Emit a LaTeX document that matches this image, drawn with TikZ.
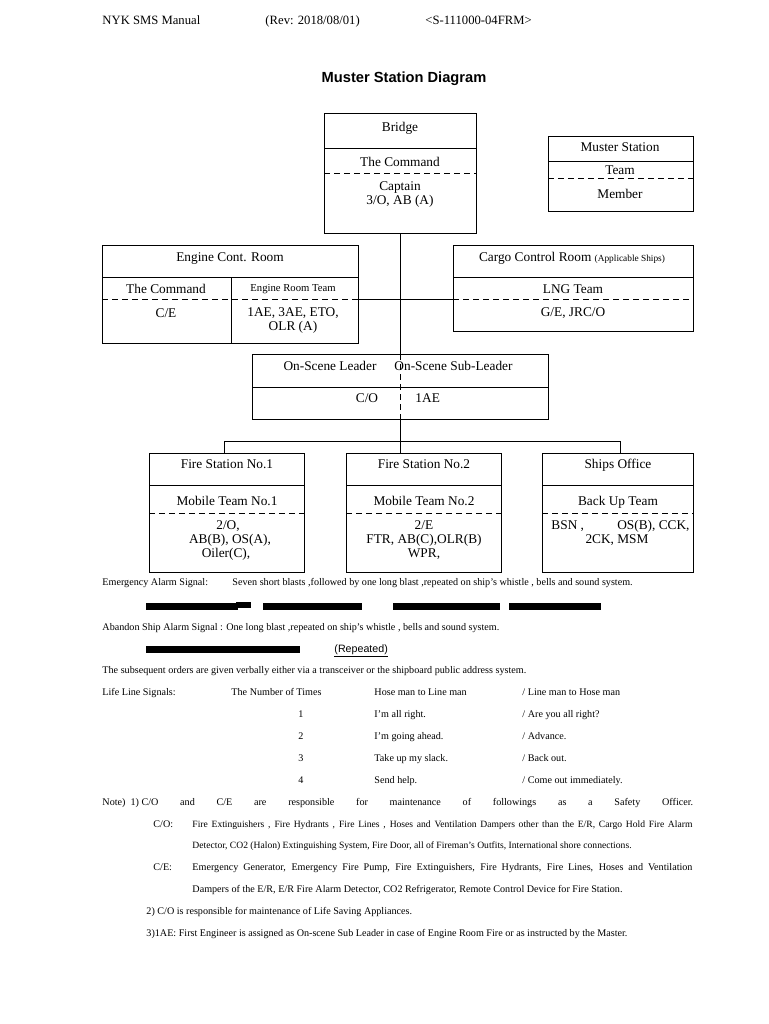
\documentclass[tikz,border=0pt]{standalone}
\usepackage{fontspec}
\setmainfont{Liberation Serif}
\newfontfamily\headsans{Liberation Sans}
\usetikzlibrary{positioning}

\begin{document}
\begin{tikzpicture}[
    x=0.75pt, y=-0.75pt, line width=0.7pt,
    station/.style 2 args={draw, anchor=north west, inner sep=0pt,
        minimum width=0.75pt*#1, minimum height=0.75pt*#2},
    divider/.style={dash pattern=on 4.5pt off 3pt},
    box_text/.style={anchor=base, inner sep=0pt, font=\fontsize{10}{12}\selectfont},
    tiny_text/.style={anchor=base, inner sep=0pt, font=\fontsize{8}{9.6}\selectfont},
    note_text/.style={anchor=base west, inner sep=0pt, font=\fontsize{7.6}{9}\selectfont},
    head_text/.style={anchor=base west, inner sep=0pt, font=\fontsize{9.5}{11}\selectfont}
]

    \useasboundingbox (0,0) rectangle (768,1024);

    % Page header and title
    \node[head_text] (manual) at (102,25) {NYK SMS Manual};
    \node[head_text] (rev) at (265,25) {(Rev: 2018/08/01)};
    \node[head_text] (docno) at (425,25) {<S-111000-04FRM>};
    \node[anchor=base, inner sep=0pt, font=\headsans\bfseries\fontsize{11}{13}\selectfont] (title) at (404,83) {Muster Station Diagram};

    % Bridge
    \node[station={152}{120}] (bridge) at (324,113) {};
    \draw (bridge.west |- 0,148) -- (bridge.east |- 0,148);
    \draw[divider] (bridge.west |- 0,173) -- (bridge.east |- 0,173);
    \node[box_text] (bridgename) at (400,131) {Bridge};
    \node[box_text] (bridgeteam) at (400,166) {The Command};
    \node[box_text] (captain) at (400,190.5) {Captain};
    \node[box_text] (bridgecrew) at (400,204.5) {3/O, AB (A)};

    % Legend
    \node[station={145}{75}] (legend) at (548,136) {};
    \draw (legend.west |- 0,161) -- (legend.east |- 0,161);
    \draw[divider] (legend.west |- 0,178) -- (legend.east |- 0,178);
    \node[box_text] (legendname) at (620,151.5) {Muster Station};
    \node[box_text] (legendteam) at (620,174) {Team};
    \node[box_text] (legendmember) at (620,198.5) {Member};

    % Engine Cont. Room
    \node[station={256}{98}] (ecr) at (102,245) {};
    \draw (ecr.west |- 0,277) -- (ecr.east |- 0,277);
    \draw (231,277) -- (ecr.south -| 231,0);
    \draw[divider] (ecr.west |- 0,299) -- (ecr.east |- 0,299);
    \node[box_text] (ecrname) at (230,261.5) {Engine Cont. Room};
    \node[box_text] (ecrcommand) at (166,293.5) {The Command};
    \node[tiny_text] (ecrteam) at (293,291) {Engine Room Team};
    \node[box_text] (chief) at (166,317) {C/E};
    \node[box_text] (ecrcrew) at (293,316.5) {1AE, 3AE, ETO,};
    \node[box_text] (ecrcrewb) at (293,330.5) {OLR (A)};

    % Cargo Control Room
    \node[station={240}{86}] (ccr) at (453,245) {};
    \draw (ccr.west |- 0,277) -- (ccr.east |- 0,277);
    \draw[divider] (ccr.west |- 0,299) -- (ccr.east |- 0,299);
    \node[box_text] (ccrname) at (572,261.5) {Cargo Control Room {\fontsize{7}{8}\selectfont(Applicable Ships)}};
    \node[box_text] (ccrteam) at (573,293.5) {LNG Team};
    \node[box_text] (ccrcrew) at (573,316.5) {G/E, JRC/O};

    % On-Scene Leader
    \node[station={296}{65}] (onscene) at (252,354) {};
    \draw (onscene.west |- 0,387) -- (onscene.east |- 0,387);
    \node[box_text] (leader) at (330,370.5) {On-Scene Leader};
    \node[box_text, anchor=base west] (subleader) at (394,370.5) {On-Scene Sub-Leader};
    \node[box_text] (chiefofficer) at (367,402.5) {C/O};
    \node[box_text, anchor=base west] (firstae) at (415,402.5) {1AE};

    % Fire stations and ships office
    \foreach \id/\lx/\w/\stname/\team in {fsone/149/155/Fire Station No.1/Mobile Team No.1,
            fstwo/346/155/Fire Station No.2/Mobile Team No.2,
            office/542/151/Ships Office/Back Up Team} {
        \node[station={\w}{119}] (\id) at (\lx,453) {};
        \draw (\id.west |- 0,485) -- (\id.east |- 0,485);
        \draw[divider] (\id.west |- 0,513) -- (\id.east |- 0,513);
        \node[box_text] (\id-name) at (\id.north |- 0,468.5) {\stname};
        \node[box_text] (\id-team) at (\id.north |- 0,505) {\team};
    }
    \node[box_text] (fsonea) at (228,529.5) {2/O,};
    \node[box_text] (fsoneb) at (230,543.5) {AB(B), OS(A),};
    \node[box_text] (fsonec) at (226,557.5) {Oiler(C),};
    \node[box_text] (fstwoa) at (424,529.5) {2/E};
    \node[box_text] (fstwob) at (424,543.5) {FTR, AB(C),OLR(B)};
    \node[box_text] (fstwoc) at (424,557.5) {WPR,};
    \node[box_text, anchor=base west] (officea) at (551,529.5) {BSN ,};
    \node[box_text, anchor=base east] (officeb) at (690,529.5) {OS(B), CCK,};
    \node[box_text] (officec) at (617,543.5) {2CK, MSM};

    % Connections
    \draw (bridge.south) -- (onscene.north);
    \draw (ecr.east |- 0,299) -- (ccr.west |- 0,299);
    \draw[divider] (onscene.north) -- (onscene.south);
    \coordinate (busL) at (224,441);
    \coordinate (busR) at (620,441);
    \draw (onscene.south) -- (onscene.south |- fstwo.north);
    \draw (busL |- fsone.north) -- (busL) -- (busR) -- (busR |- office.north);

    % Alarm signals
    \node[note_text] (emergency) at (102,585) {Emergency Alarm Signal:};
    \node[note_text] (emergencytext) at (232,585) {Seven short blasts ,followed by one long blast ,repeated on ship’s whistle , bells and sound system.};
    \foreach \a/\b in {146/238, 263/362, 393/500, 509/601}
        \fill (\a,603) rectangle (\b,610);
    \fill (236,602) rectangle (251,608);
    \node[note_text] (abandon) at (102,630) {Abandon Ship Alarm Signal : One long blast ,repeated on ship’s whistle , bells and sound system.};
    \fill (146,646) rectangle (300,653);
    \node[anchor=base west, inner sep=0pt, font=\headsans\fontsize{8}{9}\selectfont] (repeated) at (334,652) {\underline{(Repeated)}};
    \node[note_text] (orders) at (102,673) {The subsequent orders are given verbally either via a transceiver or the shipboard public address system.};

    % Life line signals
    \node[note_text] (lifeline) at (102,695) {Life Line Signals:};
    \node[note_text] (times) at (231,695) {The Number of Times};
    \node[note_text] (hoseman) at (374,695) {Hose man to Line man};
    \node[note_text] (lineman) at (522,695) {/ Line man to Hose man};
    \foreach \n/\hose/\reply in {1/I’m all right./Are you all right?, 2/I’m going ahead./Advance.,
            3/Take up my slack./Back out., 4/Send help./Come out immediately.} {
        \node[note_text, anchor=base] (count\n) at (301,695+22*\n) {\n};
        \node[note_text] (hose\n) at (374,695+22*\n) {\hose};
        \node[note_text] (reply\n) at (522,695+22*\n) {/ \reply};
    }

    % Notes
    \node[note_text] (note) at (102,805) {\makebox[443pt][s]{\mbox{Note)\ \ 1) C/O} and C/E are responsible for maintenance of followings as a Safety Officer.}};
    \node[note_text] (colabel) at (153,827) {C/O:};
    \node[note_text, font=\fontsize{7.2}{8.6}\selectfont] (coa) at (192,827) {\makebox[375pt][s]{Fire Extinguishers , Fire Hydrants , Fire Lines , Hoses and Ventilation Dampers other than the E/R, Cargo Hold Fire Alarm}};
    \node[note_text, font=\fontsize{7.2}{8.6}\selectfont] (cob) at (192,848) {Detector, CO2 (Halon) Extinguishing System, Fire Door, all of Fireman’s Outfits, International shore connections.};
    \node[note_text] (celabel) at (153,870) {C/E:};
    \node[note_text] (cea) at (192,870) {\makebox[375pt][s]{Emergency Generator, Emergency Fire Pump, Fire Extinguishers, Fire Hydrants, Fire Lines, Hoses and Ventilation}};
    \node[note_text] (ceb) at (192,892) {Dampers of the E/R, E/R Fire Alarm Detector, CO2 Refrigerator, Remote Control Device for Fire Station.};
    \node[note_text] (notetwo) at (146,914) {2) C/O is responsible for maintenance of Life Saving Appliances.};
    \node[note_text] (notethree) at (146,936) {3)1AE: First Engineer is assigned as On-scene Sub Leader in case of Engine Room Fire or as instructed by the Master.};

\end{tikzpicture}
\end{document}
